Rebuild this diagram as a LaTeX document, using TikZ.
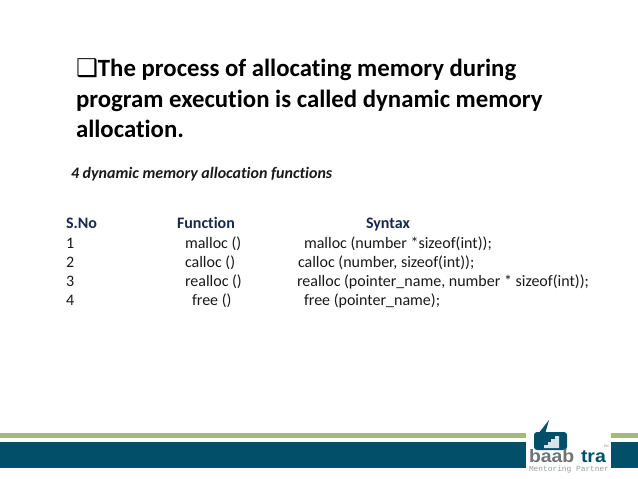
\documentclass[tikz,border=0pt]{standalone}
\usepackage{fontspec}
\setmainfont[Ligatures=CommonOff]{Carlito}
\newfontfamily\boxfont{DejaVu Sans}
\newfontfamily\logomono{Liberation Mono}
\newfontfamily\logosans{Liberation Sans}
\definecolor{barteal}{HTML}{024F6A}
\definecolor{bargreen}{HTML}{A3BB76}
\definecolor{headnavy}{HTML}{17294F}
\definecolor{logogray}{HTML}{6F7475}
\tikzset{
	txt/.style={anchor=base west, inner sep=0pt, outer sep=0pt, text=black!90, font=\fontsize{16}{18}\selectfont},
	headline/.style={txt, text=black, font=\fontsize{24.8}{30}\selectfont\bfseries},
	tablehead/.style={txt, text=headnavy, font=\fontsize{16}{18}\selectfont\bfseries},
	logotext/.style={txt, xscale=1.08, font=\fontsize{18}{19}\selectfont\logosans\bfseries},
}
\begin{document}
\begin{tikzpicture}[x=1pt, y=-1pt]
		%%%%% START %%%%%
		\useasboundingbox (0, 0) rectangle (638, 479);
		\fill[white] (0, 0) rectangle (638, 479);
		
		\fill[bargreen] (0, 433) rectangle (526, 438);
		\fill[bargreen] (611, 433) rectangle (638, 438);
		\fill[barteal] (0, 442) rectangle (526, 468);
		\fill[barteal] (611, 442) rectangle (638, 468);
		
		\node[headline] (lineone) at (76, 76) {{\boxfont\fontsize{24.5}{30}\selectfont ❑}The process of allocating memory during};
		\node[headline] (linetwo) at (76, 107) {program execution is called dynamic memory};
		\node[headline] (linethree) at (76, 137) {allocation.};
		
		\node[txt, font=\fontsize{16}{18}\selectfont\bfseries\itshape] (subtitle) at (71, 178) {4 dynamic memory allocation functions};
		
		\node[tablehead] (sno) at (66, 228) {S.No};
		\node[tablehead] (function) at (177, 228) {Function};
		\node[tablehead] (syntax) at (366, 228) {Syntax};
		
		\node[txt] (numone) at (66, 248) {1};
		\node[txt] (numtwo) at (66, 267) {2};
		\node[txt] (numthree) at (66, 286) {3};
		\node[txt] (numfour) at (66, 305) {4};
		
		\node[txt] (funcone) at (185, 248) {malloc ()};
		\node[txt] (functwo) at (185, 267) {calloc ()};
		\node[txt] (functhree) at (185, 286) {realloc ()};
		\node[txt] (funcfour) at (192, 305) {free ()};
		
		\node[txt] (synone) at (304, 248) {malloc (number *sizeof(int));};
		\node[txt] (syntwo) at (298, 267) {calloc (number, sizeof(int));};
		\node[txt] (synthree) at (297, 286) {realloc (pointer\_name, number * sizeof(int));};
		\node[txt] (synfour) at (304, 305) {free (pointer\_name);};
		
		% logo
		\fill[barteal, rounded corners=3pt] (534, 432) rectangle (567, 450);
		\fill[barteal] (538, 434) -- (549, 420) -- (545, 434) -- cycle;
		\fill[white!85!barteal] (544, 448) -- (544, 445) -- (548, 445) -- (548, 442) -- (551, 442) -- (551, 439) -- (555, 439) -- (555, 436) -- (559, 436) -- (559, 448) -- cycle;
		\node[logotext, text=logogray] (logobaab) at (529, 462) {baab};
		\node[logotext, text=barteal] (logotra) at (581, 462) {tra};
		\node[txt, text=logogray, font=\fontsize{3.5}{4}\selectfont] (logotm) at (604, 447) {TM};
		\node[txt, text=logogray!70, font=\fontsize{7.85}{8}\selectfont\logomono] (logosub) at (529, 471) {Mentoring Partner};
		
		%%%%% END %%%%%
	\end{tikzpicture}
\end{document}
